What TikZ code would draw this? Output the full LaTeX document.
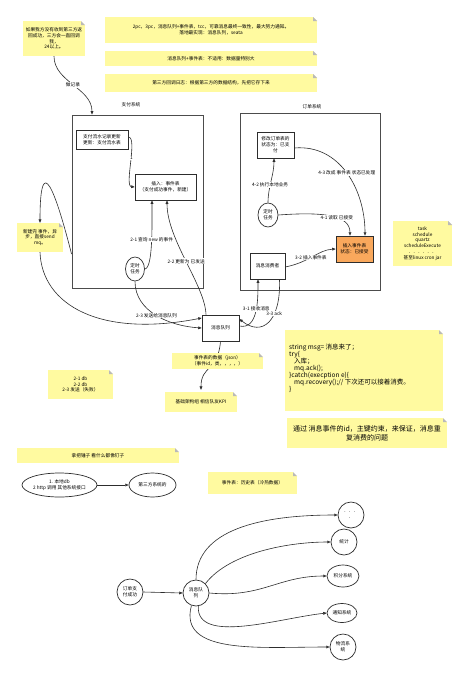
\documentclass[tikz,border=0pt]{standalone}
\usepackage{fontspec}
\setmainfont{Noto Sans CJK SC}
\usetikzlibrary{arrows.meta,shapes.geometric}
\definecolor{notey}{RGB}{255,250,160}
\definecolor{orng}{RGB}{249,168,92}
\definecolor{ln}{RGB}{45,45,45}
\tikzset{
 every node/.style={font=\fontsize{4.7}{5.8}\selectfont, align=center, inner sep=1pt},
 note/.style={fill=notey, draw=none, path picture={
   \fill[white] ([xshift=-4pt]path picture bounding box.north east) -- (path picture bounding box.north east) -- ([yshift=-4pt]path picture bounding box.north east) -- cycle;
   \fill[gray!55] ([xshift=-4pt]path picture bounding box.north east) -- ([yshift=-4pt]path picture bounding box.north east) -- ([xshift=-4pt,yshift=-4pt]path picture bounding box.north east) -- cycle;}},
 box/.style={draw=ln, line width=0.7pt, fill=white},
 sysbox/.style={draw=ln!85, line width=0.9pt},
 oval/.style={ellipse, draw=ln, line width=0.7pt, fill=white, inner sep=0pt},
 circ/.style={circle, draw=ln, line width=0.7pt, fill=white, inner sep=0pt, minimum size=26pt},
 arr/.style={draw=ln, line width=0.6pt, -{Triangle[length=3.4pt,width=2.8pt]}},
 lbl/.style={fill=white, inner sep=0.6pt},
}
\begin{document}
\begin{tikzpicture}[x=1pt,y=-1pt]
\useasboundingbox (0,0) rectangle (474,683);
\fill[white] (0,0) rectangle (474,683);

% top notes
\node[note, minimum width=62pt, minimum height=35pt] (n0) at (54,38.5) {如果我方没有收到第三方返\\回成功，三方会一直回调\\我，\\24以上。};
\node[note, minimum width=212pt, minimum height=26pt] (n1) at (211,30) {2pc，3pc，消息队列+事件表，tcc，可靠消息最终一致性，最大努力通知。\\落地最实现：消息队列，seata};
\node[note, minimum width=212pt, minimum height=15pt] (n2) at (211,58.5) {消息队列+事件表：不适用：数据量特别大};
\node[note, minimum width=212pt, minimum height=18pt] (n3) at (211,83) {第三方回调日志：根据第三方的数据结构，先把它存下来};

% payment system
\node (paylbl) at (131,105) {支付系统};
\node[sysbox, minimum width=131pt, minimum height=173pt] (paybox) at (137.5,201.5) {};
\node[box, minimum width=52pt, minimum height=19pt] (pay1) at (102,139.5) {支付流水记录更新\\更新：支付流水表};
\node[box, minimum width=61pt, minimum height=26pt] (pay2) at (165.5,187) {插入：事件表\\（支付成功事件，新建）};
\node[oval, minimum width=19pt, minimum height=24pt] (ptimer) at (135,269) {定时\\任务};

% order system
\node (ordlbl) at (312,107) {订单系统};
\node[sysbox, minimum width=140pt, minimum height=177pt] (ordbox) at (310,201.5) {};
\node[box, minimum width=37pt, minimum height=26pt] (ord1) at (275.5,145) {修改订单表的\\状态为：已支\\付};
\node[oval, minimum width=20pt, minimum height=24pt] (otimer) at (268,215) {定时\\任务};
\node[box, fill=orng, minimum width=37pt, minimum height=26pt] (orange) at (354.5,249) {插入事件表\\状态：已接受};
\node[box, minimum width=35pt, minimum height=26pt] (cons) at (267.5,266) {消息消费者};

% message queue
\node[box, minimum width=37pt, minimum height=26pt] (mq) at (220.5,328) {消息队列};

% other notes
\node[note, minimum width=46pt, minimum height=29pt] (na) at (40,237.5) {新建完 事件，异\\步，直接send\\mq。};
\node[note, minimum width=59pt, minimum height=45pt] (task) at (422.5,243.5) {task\\schedule\\quartz\\scheduleExecute\\．．．．．．\\甚至linux cron jar};
\node[note, minimum width=72pt, minimum height=20pt] (kpi) at (201,402) {基础架构组 相信队友KPI};
\node[note, minimum width=65pt, minimum height=29pt] (db) at (80.5,384.5) {2-1 db\\2-2 db\\2-3 发送（失败）};
\node[note, minimum width=158pt, minimum height=81pt] (code) at (364,370.5) {};
\node[anchor=north west, align=left, font=\fontsize{6.5}{7.1}\selectfont] (codetxt) at (288,342.5) {string msg= 消息来了；\\try\{\\\hspace*{5pt}入库；\\\hspace*{5pt}mq.ack();\\\}catch(execption e)\{\\\hspace*{5pt}mq.recovery();// 下次还可以接着消费。\\\}};
\node[note, minimum width=160pt, minimum height=30pt, font=\fontsize{7}{9}\selectfont] (dup) at (367,433) {通过 消息事件的id，主键约束，来保证，消息重\\复消费的问题};
\node[note, minimum width=162pt, minimum height=15pt] (hammer) at (98,455.5) {拿把锤子 看什么都像钉子};
\node[oval, minimum width=75pt, minimum height=24pt] (e1) at (59.5,485) {1. 本地db\\2 http 调用 其他系统接口};
\node[oval, minimum width=47pt, minimum height=24pt] (e2) at (152.5,485) {第三方系统的};
\node[note, minimum width=89pt, minimum height=22pt] (hist) at (252.5,483) {事件表：历史表（冷热数据）};

% bottom graph
\node[circ] (b1) at (130,592) {订单支\\付成功};
\node[circ] (b2) at (196,593) {消息队\\列};
\node[circ] (bdots) at (351,515) {．．．\\．};
\node[circ] (btj) at (344,542) {统计};
\node[oval, minimum width=32pt, minimum height=22pt] (bjf) at (343,576) {积分系统};
\node[oval, minimum width=30pt, minimum height=19pt] (btz) at (342,613) {通知系统};
\node[circ] (bwl) at (343,647) {物流系\\统};

% connectors top
\draw[arr] (n0.south) .. controls (54,82) and (92,88) .. node[lbl] {做记录} ([xshift=-45.5pt]paybox.north);
\draw[arr] ([yshift=2.5pt]pay1.east) .. controls (138,137) and (124,186) .. node[lbl, pos=0.45] {1} (pay2.west);
\draw[arr] (ptimer.east) .. controls (153,268) and (152,225) .. node[lbl, pos=0.55] {2-1 查询 new 的事件} ([xshift=-13.5pt]pay2.south);
\draw[arr] ([xshift=-14.5pt]mq.north) .. controls (205,285) and (167,240) .. node[lbl, pos=0.5] {2-2 更新为 已发送} ([xshift=1.5pt]pay2.south);
\draw[arr] (ptimer.south) .. controls (135,312) and (170,326) .. node[lbl, pos=0.5] {2-3 发送给消息队列} (mq.west);
\draw[arr] ([yshift=-52.5pt]paybox.west) .. controls (45,150) and (40,180) .. (na.north);
\draw[arr] (na.south) .. controls (42,305) and (100,338) .. ([yshift=10pt]mq.west);
\draw[arr] ([yshift=2pt]mq.east) .. controls (258,330) and (258,300) .. node[lbl, pos=0.55] {3-1 接收消息} ([xshift=-9.5pt]cons.south);
\draw[arr] ([xshift=12pt]cons.south) .. controls (281,322) and (262,337) .. node[lbl, pos=0.35] {3-3 ack} ([yshift=9pt]mq.east);
\draw[arr] (otimer.north) .. controls (268,187) and (274,175) .. node[lbl, pos=0.4] {4-2 执行本地业务} ([xshift=-1.5pt]ord1.south);
\draw[arr] ([yshift=-3pt]ord1.east) .. controls (340,144) and (365,190) .. node[lbl, pos=0.5] {4-3 改成 事件表 状态已处理} ([xshift=10.5pt]orange.north);
\draw[arr] (otimer.east) .. controls (320,212) and (350,214) .. node[lbl, pos=0.6] {4-1 读取 已接受} ([xshift=-4.5pt]orange.north);
\draw[arr] ([yshift=-1pt]cons.east) .. controls (310,262) and (318,250) .. node[lbl, pos=0.45] {3-2 插入事件表} (orange.west);
\draw[arr] (mq.south) .. controls (218,372) and (201,365) .. ([yshift=2pt]kpi.north);
\draw[arr] (e1.east) -- (e2.west);

% bottom connectors
\draw[arr] (b1.east) -- (b2.west);
\draw[arr] (b2.north) .. controls (196,530) and (260,515) .. (bdots.west);
\draw[arr] (b2.45) .. controls (230,552) and (290,542) .. (btj.west);
\draw[arr] (b2.east) .. controls (262,598) and (278,576) .. (bjf.west);
\draw[arr] (b2.-80) .. controls (196,645) and (280,618) .. (btz.west);
\draw[arr] (b2.-110) .. controls (178,655) and (260,647) .. (bwl.west);

% json note on top of the line
\node[note, minimum width=91pt, minimum height=16pt] (json) at (217.5,361) {事件表的数据（json）\\（事件id，类，，，，）};
\end{tikzpicture}
\end{document}
